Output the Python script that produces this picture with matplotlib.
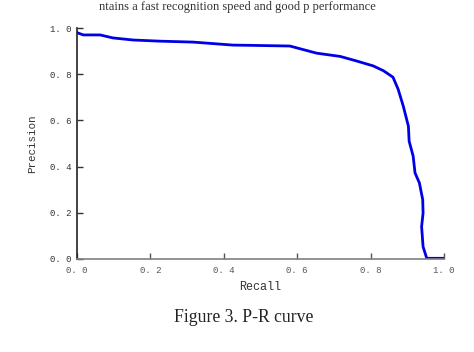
import matplotlib
matplotlib.use("Agg")
import matplotlib.pyplot as plt

recall = [0.0, 0.017, 0.063, 0.098, 0.153, 0.226, 0.316, 0.425, 0.469, 0.58,
          0.653, 0.717, 0.76, 0.807, 0.835, 0.861, 0.875, 0.889, 0.903, 0.905,
          0.916, 0.921, 0.933, 0.942, 0.943, 0.939, 0.943, 0.953, 0.998]
precision = [0.98, 0.97, 0.97, 0.957, 0.948, 0.943, 0.939, 0.926, 0.925, 0.922,
             0.891, 0.877, 0.858, 0.836, 0.815, 0.787, 0.735, 0.662, 0.575, 0.51,
             0.445, 0.373, 0.329, 0.257, 0.199, 0.14, 0.053, 0.003, 0.003]

ticks = [0.0, 0.2, 0.4, 0.6, 0.8, 1.0]
tick_labels = ["0. 0", "0. 2", "0. 4", "0. 6", "0. 8", "1. 0"]

fig = plt.figure(figsize=(4.74, 3.52), dpi=100)
ax = fig.add_axes([77/474, 1 - 259/352, (444-77)/474, (259-28)/352])
ax.plot(recall, precision, color="#0000e6", lw=2.0, solid_joinstyle="round")
ax.set_xlim(0, 1)
ax.set_ylim(0, 1)
ax.set_xticks(ticks)
ax.set_yticks(ticks)
mono = "Liberation Mono"
ax.set_xticklabels(tick_labels, fontfamily=mono, fontsize=6.5, color="#444444")
ax.set_yticklabels(tick_labels, fontfamily=mono, fontsize=6.5, color="#333333")
ax.tick_params(direction="in", length=4, width=1, colors="#333333")
ax.tick_params(axis="y", pad=4)
ax.tick_params(axis="x", labelcolor="#555555", color="#555555", pad=5)
for s in ["top", "right"]:
    ax.spines[s].set_visible(False)
ax.spines["left"].set_color("#222222")
ax.spines["left"].set_linewidth(1.2)
ax.spines["bottom"].set_color("#808080")
ax.spines["bottom"].set_linewidth(1.2)
ax.set_xlabel("Recall", fontfamily=mono, fontsize=8.5, color="#333333", labelpad=4)
ax.set_ylabel("Precision", fontfamily=mono, fontsize=7.8, color="#333333", labelpad=9)

fig.text(244/474, 1 - 317/352, "Figure 3. P-R curve", fontfamily="Liberation Serif",
         fontsize=12.7, ha="center", va="center", color="#222222")
fig.text(0.5, 0.998, "ntains a fast recognition speed and good p performance",
         fontfamily="Liberation Serif", fontsize=9, ha="center", va="top",
         color="#333333")

fig.savefig("out.png", dpi=100)
